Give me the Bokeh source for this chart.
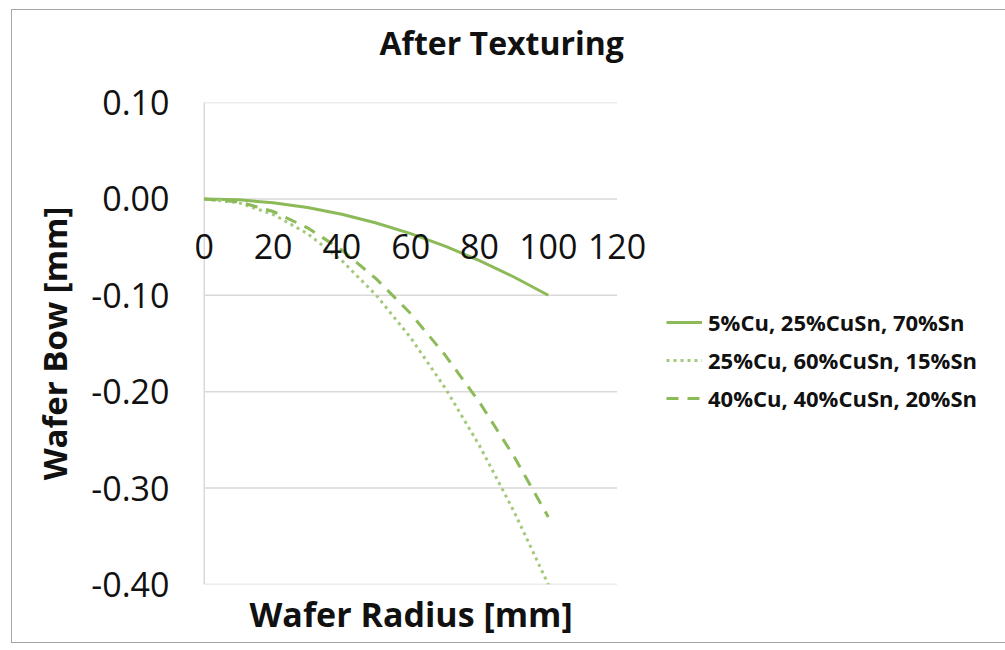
from bokeh.plotting import figure
from bokeh.models import Legend, LegendItem, Title, FixedTicker, NumeralTickFormatter
from bokeh.embed import file_html
from bokeh.resources import INLINE

# wafer radius [mm]
radius = [0, 10, 20, 30, 40, 50, 60, 70, 80, 90, 100]

# wafer bow [mm]
bow_5cu = [0.0, -0.001, -0.004, -0.009, -0.016, -0.025, -0.036, -0.049, -0.064, -0.081, -0.100]
bow_25cu = [0.0, -0.004, -0.016, -0.036, -0.064, -0.100, -0.144, -0.196, -0.256, -0.324, -0.400]
bow_40cu = [0.0, -0.003, -0.013, -0.030, -0.053, -0.083, -0.119, -0.162, -0.211, -0.267, -0.330]

labels = ["5%Cu, 25%CuSn, 70%Sn", "25%Cu, 60%CuSn, 15%Sn", "40%Cu, 40%CuSn, 20%Sn"]

x_ticks = [0, 20, 40, 60, 80, 100, 120]
y_ticks = [0.10, 0.0, -0.10, -0.20, -0.30, -0.40]

FONT = "Open Sans"
GRID = "#d9d9d9"
INK = "#111111"

# the frame runs a little past 0..120 so the crossing axis labels are not cut;
# grid lines are drawn only over 0..120 like the original
p = figure(
    width=988, height=632, frame_width=461, frame_height=482,
    x_range=(-4, 130), y_range=(-0.40, 0.10),
    output_backend="svg", toolbar_location=None,
    min_border_left=178, min_border_right=349,
    min_border_top=92, min_border_bottom=58,
    styles={"border": "1.5px solid #a6a6a6", "margin-left": "11px", "margin-top": "9px"},
)
p.outline_line_color = None
p.background_fill_color = "white"
p.xgrid.grid_line_color = None
p.ygrid.grid_line_color = None

# empty spacer between frame and title, so the title sits higher up
spacer = Title(text=" ", text_font_size="1px", standoff=24)
p.add_layout(spacer, "above")

title = Title(text="After Texturing", align="left", offset=189, standoff=20,
              vertical_align="top",
              text_font=FONT, text_font_size="32px", text_font_style="bold",
              text_color=INK)
p.add_layout(title, "above")

# x axis crossing at y = 0
p.xaxis.fixed_location = 0
p.xaxis.ticker = FixedTicker(ticks=x_ticks)
p.xaxis.major_tick_line_color = None
p.xaxis.minor_tick_line_color = None
p.xaxis.axis_line_color = None
p.xaxis.major_label_standoff = 29
p.xaxis.major_label_text_font = FONT
p.xaxis.major_label_text_font_size = "34px"
p.xaxis.major_label_text_color = INK

p.yaxis.ticker = FixedTicker(ticks=y_ticks)
p.yaxis.formatter = NumeralTickFormatter(format="0.00")
p.yaxis.major_tick_line_color = None
p.yaxis.minor_tick_line_color = None
p.yaxis.axis_line_color = None
p.yaxis.major_label_standoff = 15
p.yaxis.major_label_text_font = FONT
p.yaxis.major_label_text_font_size = "34px"
p.yaxis.major_label_text_color = INK
p.yaxis.axis_label = "Wafer Bow [mm]"
p.yaxis.axis_label_standoff = 11
p.yaxis.axis_label_text_font = FONT
p.yaxis.axis_label_text_font_size = "33px"
p.yaxis.axis_label_text_font_style = "bold"
p.yaxis.axis_label_text_color = INK

xlabel = Title(text="Wafer Radius [mm]", align="left", offset=59, standoff=8,
               text_font=FONT, text_font_size="34px", text_font_style="bold",
               text_color=INK)
p.add_layout(xlabel, "below")

# horizontal grid lines and the vertical value axis line
p.segment(x0=x_ticks[0], x1=x_ticks[-1], y0=y_ticks, y1=y_ticks,
          line_color=GRID, line_width=1.5)
p.segment(x0=x_ticks[0], x1=x_ticks[0], y0=y_ticks[-1], y1=y_ticks[0],
          line_color=GRID, line_width=1.5)

r1 = p.line(radius, bow_5cu, line_color="#8cba58", line_width=3)
r2 = p.line(radius, bow_25cu, line_color="#a3c97c", line_width=3, line_dash="3 4")
r3 = p.line(radius, bow_40cu, line_color="#8cba58", line_width=3, line_dash="12 9")

legend = Legend(
    items=[LegendItem(label=labels[0], renderers=[r1]),
           LegendItem(label=labels[1], renderers=[r2]),
           LegendItem(label=labels[2], renderers=[r3])],
    location=(15, 171),
    border_line_color=None, background_fill_alpha=0,
    label_text_font=FONT, label_text_font_size="22px", label_text_font_style="bold",
    label_text_color=INK,
    glyph_width=36, label_standoff=6, spacing=8, padding=10,
)
p.add_layout(legend, "right")

open("out.html", "w").write(file_html(p, INLINE))
